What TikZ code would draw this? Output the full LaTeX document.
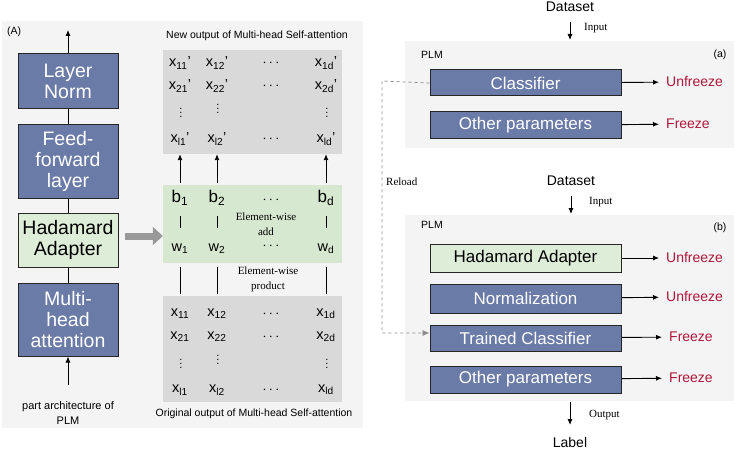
\documentclass[tikz,border=0pt]{standalone}
\usepackage{fontspec}
\setmainfont{Liberation Sans}
\newfontfamily\serifont{Liberation Serif}
\usetikzlibrary{arrows.meta}
\definecolor{boxblue}{HTML}{6B7BA8}
\definecolor{boxgreen}{HTML}{DDEDD8}
\definecolor{panel}{HTML}{F4F4F4}
\definecolor{mgray}{HTML}{D9D9D9}
\definecolor{mgreen}{HTML}{D6E9D0}
\definecolor{redlab}{HTML}{B0173C}
\newcommand{\xs}[2]{x\textsubscript{#1}#2}
\begin{document}
\begin{tikzpicture}[x=1pt,y=-1pt,
 bb/.style={draw=black!85,line width=1pt,fill=boxblue,text=white,align=center,font=\fontsize{19.5}{21}\selectfont,inner sep=0pt},
 gb/.style={bb,fill=boxgreen,text=black},
 rb/.style={bb,font=\fontsize{17}{18}\selectfont},
 rg/.style={rb,fill=boxgreen,text=black},
 arr/.style={-{Latex[length=6pt,width=5pt]},line width=0.9pt},
 ent/.style={font=\fontsize{14.5}{15}\selectfont,inner sep=0pt},
 vd/.style={font=\fontsize{11}{11}\selectfont,inner sep=0pt},
 note/.style={font=\serifont\fontsize{11}{15}\selectfont,align=center,inner sep=0pt},
 lab/.style={font=\fontsize{14}{15}\selectfont,text=redlab,anchor=west,inner sep=0pt},
 small/.style={font=\fontsize{10.5}{12}\selectfont,inner sep=0pt,align=center}]
\useasboundingbox (0,0) rectangle (738,449);
% ---------- left panel
\fill[panel] (2,21) rectangle (363,428);
\node[small,anchor=west] (A) at (7,32) {(A)};
\node[bb,minimum width=100pt,minimum height=55pt] (ln) at (68,81.5) {Layer\\Norm};
\node[bb,minimum width=100pt,minimum height=73pt] (ff) at (68,161.5) {Feed-\\forward\\layer};
\node[gb,minimum width=100pt,minimum height=54pt] (ha) at (68,240) {Hadamard\\Adapter};
\node[bb,minimum width=100pt,minimum height=73pt] (mh) at (68,319.5) {Multi-\\head\\attention};
\coordinate (top) at (68,30);
\coordinate (bot) at (68,385);
\draw[arr] (ln) -- (top);
\draw[line width=0.9pt] (ff) -- (ln);
\draw[line width=0.9pt] (ha) -- (ff);
\draw[line width=0.9pt] (mh) -- (ha);
\draw[arr] (bot) -- (mh);
\node[small,font=\fontsize{11}{15}\selectfont] (part) at (68,413) {part architecture of\\PLM};
% matrices
\node[fill=mgray,minimum width=179pt,minimum height=104pt,inner sep=0pt] (mt) at (252.5,102) {};
\node[fill=mgreen,minimum width=179pt,minimum height=78pt,inner sep=0pt] (mg) at (252.5,224) {};
\node[fill=mgray,minimum width=179pt,minimum height=106pt,inner sep=0pt] (mb) at (252.5,349) {};
\node[small] (tt) at (257,36) {New output of Multi-head Self-attention};
\node[small] (bt) at (254,414) {Original output of Multi-head Self-attention};
% top entries
\node[ent] (t11) at (180,63) {\xs{11}{'}};
\node[ent] (t12) at (217,63) {\xs{12}{'}};
\node[ent] (t1d) at (326,63) {\xs{1d}{'}};
\node[ent] (t21) at (180,86) {\xs{21}{'}};
\node[ent] (t22) at (217,86) {\xs{22}{'}};
\node[ent] (t2d) at (326,86) {\xs{2d}{'}};
\node[ent] (tl1) at (180,139) {\xs{l1}{'}};
\node[ent] (tl2) at (217,139) {\xs{l2}{'}};
\node[ent] (tld) at (326,139) {\xs{ld}{'}};
\foreach \y in {63,86,139}{\node[ent] (td\y) at (271,\y) {$\cdots$};}
\node[vd] (tv1) at (181,110) {$\vdots$};
\node[vd] (tv2) at (218,106) {$\vdots$};
\node[vd] (tv3) at (327,110) {$\vdots$};
% green entries
\node[ent,font=\fontsize{17}{18}\selectfont] (b1) at (180,198) {b\textsubscript{1}};
\node[ent,font=\fontsize{17}{18}\selectfont] (b2) at (217,198) {b\textsubscript{2}};
\node[ent,font=\fontsize{17}{18}\selectfont] (bd) at (326,198) {b\textsubscript{d}};
\node[ent] (bdots) at (271,200) {$\cdots$};
\node[ent] (w1) at (180,249) {w\textsubscript{1}};
\node[ent] (w2) at (217,249) {w\textsubscript{2}};
\node[ent] (wd) at (326,249) {w\textsubscript{d}};
\node[ent] (wdots) at (271,246) {$\cdots$};
\foreach \x in {180,217,326}{\draw[line width=0.8pt] (\x,216) -- (\x,228);}
\node[note] (ewa) at (266,224) {Element-wise\\add};
\node[note] (ewp) at (268,279) {Element-wise\\product};
\foreach \x in {180,217,326}{\draw[line width=0.8pt] (\x,267) -- (\x,294);}
\draw[arr] (b1.north |- mg.north) ++(0,-2) -- (t11.south |- mt.south);
\draw[arr] (b2.north |- mg.north) ++(0,-2) -- (t12.south |- mt.south);
\draw[arr] (bd.north |- mg.north) ++(0,-2) -- (t1d.south |- mt.south);
% bottom entries
\node[ent] (x11) at (180,314) {\xs{11}{}};
\node[ent] (x12) at (217,314) {\xs{12}{}};
\node[ent] (x1d) at (326,314) {\xs{1d}{}};
\node[ent] (x21) at (180,337) {\xs{21}{}};
\node[ent] (x22) at (217,337) {\xs{22}{}};
\node[ent] (x2d) at (326,337) {\xs{2d}{}};
\node[ent] (xl1) at (180,390) {\xs{l1}{}};
\node[ent] (xl2) at (217,390) {\xs{l2}{}};
\node[ent] (xld) at (326,390) {\xs{ld}{}};
\foreach \y in {314,337,390}{\node[ent] (xd\y) at (271,\y) {$\cdots$};}
\node[vd] (xv1) at (181,361) {$\vdots$};
\node[vd] (xv2) at (218,357) {$\vdots$};
\node[vd] (xv3) at (327,361) {$\vdots$};
% fat arrow
\coordinate (fa) at (125,236);
\draw[-{Triangle[length=10pt,width=18pt]},line width=7pt,draw=black!40] (fa) -- (mg.west |- fa);
% ---------- right panel (a)
\node[font=\fontsize{14}{15}\selectfont,inner sep=0pt] (ds1) at (570,7) {Dataset};
\fill[panel] (405,41) rectangle (734,148);
\draw[arr] (570,22) -- (570,40);
\node[note,anchor=west] (in1) at (584,28) {Input};
\node[small,anchor=west] (plm1) at (421,55) {PLM};
\node[small] (pa) at (720,55) {(a)};
\node[rb,minimum width=191pt,minimum height=26pt] (cl) at (525.5,83) {Classifier};
\node[rb,minimum width=191pt,minimum height=27pt] (op1) at (525.5,125.5) {Other parameters};
\node[lab] (u1) at (666,82) {Unfreeze};
\node[lab] (f1) at (666,124) {Freeze};
\draw[arr,shorten >=7pt] (cl) -- (u1);
\draw[arr,shorten >=7pt] (op1) -- (f1);
% (b)
\node[font=\fontsize{14}{15}\selectfont,inner sep=0pt] (ds2) at (571,181) {Dataset};
\draw[arr] (571,196) -- (571,214);
\node[note,anchor=west] (in2) at (589,202) {Input};
\fill[panel] (405,215) rectangle (734,401);
\node[small,anchor=west] (plm2) at (421,225) {PLM};
\node[small] (pb) at (720,228) {(b)};
\node[rg,minimum width=191pt,minimum height=28pt] (had) at (525.5,258) {Hadamard Adapter};
\node[rb,minimum width=191pt,minimum height=29pt] (nor) at (525.5,298.5) {Normalization};
\node[rb,minimum width=191pt,minimum height=26pt] (tc) at (525.5,338) {Trained Classifier};
\node[rb,minimum width=191pt,minimum height=27pt] (op2) at (525.5,379.5) {Other parameters};
\node[lab] (u2) at (666,258) {Unfreeze};
\node[lab] (u3) at (666,297) {Unfreeze};
\node[lab] (f2) at (669,337) {Freeze};
\node[lab] (f3) at (669,378) {Freeze};
\draw[arr,shorten >=7pt] (had) -- (u2);
\draw[arr,shorten >=7pt] (nor) -- (u3);
\draw[arr,shorten >=7pt] (tc) -- (f2);
\draw[arr,shorten >=7pt] (op2) -- (f3);
\draw[arr] (570,402) -- (570,425);
\node[note,anchor=west] (out) at (589,415) {Output};
\node[font=\fontsize{14}{15}\selectfont,inner sep=0pt] (lbl) at (570,442) {Label};
% reload
\draw[dashed,draw=black!45,line width=0.8pt,-{Latex[length=7pt,width=6pt]}] (cl.west) -- (382,81) -- (382,333) -- (tc.west |- 0,333);
\node[note,anchor=west] (rl) at (386,182) {Reload};
\end{tikzpicture}
\end{document}
